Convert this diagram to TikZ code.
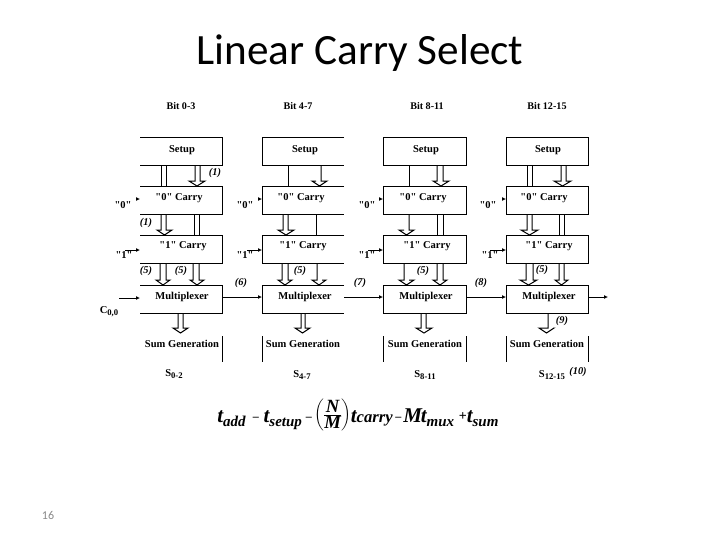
\documentclass[tikz,border=0pt]{standalone}
\usepackage{fontspec}
\usepackage{graphicx}
\setmainfont{Liberation Serif}[Ligatures=TeXOff]
\newfontfamily\titlefont{Carlito}
\usetikzlibrary{calc,arrows.meta}
\tikzset{
  x=0.75pt,y=-0.75pt,
  wire/.style={draw=black,line width=0.75pt},
  inwire/.style={wire,-{Latex[length=3pt,width=3pt]}},
  cell/.style={inner sep=0pt,outer sep=0pt},
  lbl/.style={inner sep=0pt,font=\fontsize{7.9pt}{9pt}\selectfont\bfseries},
  bitlbl/.style={inner sep=0pt,font=\fontsize{7.6pt}{9pt}\selectfont\bfseries},
  tag/.style={inner sep=0pt,font=\fontsize{7.8pt}{9pt}\selectfont\bfseries\itshape},
}
\newcommand{\openL}[1]{\draw[wire] (#1.north west) -- (#1.north east) -- (#1.south east) -- (#1.south west);}
\newcommand{\openR}[1]{\draw[wire] (#1.north east) -- (#1.north west) -- (#1.south west) -- (#1.south east);}
\newcommand{\closedbox}[1]{\draw[wire] (#1.north west) rectangle (#1.south east);}
% plain link: from, to, x
\newcommand{\plainlink}[3]{\draw[wire] (#3,0 |- #1.south) -- (#3,0 |- #2.north);}
% arrow with one visible shaft: from, to, shaft x, other x, near wing, far wing
\newcommand{\onearrow}[6]{\draw[wire] (#3,0 |- #1.south) -- ($(#3,0 |- #2.north)+(0,-5)$) -- ($(#5,0 |- #2.north)+(0,-5)$) -- ({(#5+#6)/2},0 |- #2.north) -- ($(#6,0 |- #2.north)+(0,-5)$) -- ($(#4,0 |- #2.north)+(0,-5)$);}
% arrow with two shafts: from, to, left x, right x, left wing, right wing
\newcommand{\twoarrow}[6]{\draw[wire] (#3,0 |- #1.south) -- ($(#3,0 |- #2.north)+(0,-5)$) -- ($(#5,0 |- #2.north)+(0,-5)$) -- ({(#5+#6)/2},0 |- #2.north) -- ($(#6,0 |- #2.north)+(0,-5)$) -- ($(#4,0 |- #2.north)+(0,-5)$) -- (#4,0 |- #1.south);}
\newcommand{\eqmain}{\fontsize{15.75pt}{18pt}\selectfont\bfseries\itshape}
\newcommand{\eqfrac}{\fontsize{14pt}{16pt}\selectfont\bfseries\itshape}
\newcommand{\eqsub}[1]{\raisebox{-3pt}{\fontsize{11.25pt}{12pt}\selectfont\bfseries\itshape #1}}
\newcommand{\eqsubb}[1]{\raisebox{0pt}{\fontsize{12.5pt}{13pt}\selectfont\bfseries\itshape #1}}
\newcommand{\eqop}[2]{\raisebox{1pt}{\fontsize{#1pt}{11pt}\selectfont\bfseries\upshape #2}}
\newcommand{\slbl}[1]{S\raisebox{-1.5pt}{\fontsize{6.5pt}{7pt}\selectfont #1}}
\begin{document}
\begin{tikzpicture}
\useasboundingbox (0,0) rectangle (720,540);
\fill[white] (0,0) rectangle (720,540);
\node[inner sep=0pt,anchor=base,font=\titlefont\fontsize{32.4pt}{36pt}\selectfont] (title) at (360,64) {Linear Carry Select};
\node[inner sep=0pt,text=black!46,font=\titlefont\fontsize{9pt}{10pt}\selectfont] (page) at (48,515) {16};

\foreach \c/\x/\w in {A/181/82,B/303/82,C/424.5/83,D/547/82}{
  \node[cell,minimum width=\w*0.75pt,minimum height=21pt] (setup\c) at (\x,151) {};
  \node[cell,minimum width=\w*0.75pt,minimum height=21pt] (zero\c) at (\x,200) {};
  \node[cell,minimum width=\w*0.75pt,minimum height=21pt] (one\c) at (\x,249) {};
  \node[cell,minimum width=\w*0.75pt,minimum height=21pt] (mux\c) at (\x,299) {};
  \node[cell,minimum width=\w*0.75pt,minimum height=21.75pt] (sum\c) at (\x,347.5) {};
}
\foreach \n in {setupA,zeroA,oneA,muxA}{\openL{\n}}
\foreach \n in {setupB,zeroB,oneB,muxB}{\openR{\n}}
\foreach \n in {setupC,zeroC,oneC,muxC,setupD,zeroD,oneD,muxD}{\closedbox{\n}}
\draw[wire] ($(sumA.north east)+(0,3)$) -- (sumA.south east);
\draw[wire] ($(sumB.north west)+(0,3)$) -- (sumB.south west);
\foreach \n in {sumC,sumD}{
  \draw[wire] ($(\n.north west)+(0,3)$) -- (\n.south west);
  \draw[wire] ($(\n.north east)+(0,3)$) -- (\n.south east);
}

% box texts
\foreach \t/\x/\y/\s in {a1/182/150/Setup,a2/305/150/Setup,a3/426/150/Setup,a4/548/150/Setup,
  b1/179/198/{"0" Carry},b2/301/198/{"0" Carry},b3/423/198/{"0" Carry},b4/544/198/{"0" Carry},
  c1/183/246/{"1" Carry},c2/303/246/{"1" Carry},c3/427/246/{"1" Carry},c4/549/246/{"1" Carry},
  d1/182/297/Multiplexer,d2/305/297/Multiplexer,d3/426/297/Multiplexer,d4/549/297/Multiplexer,
  e1/182/344/Sum Generation,e2/303/344/Sum Generation,e3/425/344/Sum Generation,e4/547/344/Sum Generation}{
  \node[lbl] (txt\t) at (\x,\y) {\s};
}
\foreach \t/\x/\s in {1/181/Bit 0-3,2/298/Bit 4-7,3/427/Bit 8-11,4/547/Bit 12-15}{
  \node[bitlbl] (bit\t) at (\x,106) {\s};
}

% column A links
\plainlink{setupA}{zeroA}{161}
\plainlink{setupA}{zeroA}{166}
\twoarrow{setupA}{zeroA}{195}{200}{189}{205}
\twoarrow{zeroA}{oneA}{161}{166}{157}{172}
\plainlink{zeroA}{oneA}{194}
\plainlink{zeroA}{oneA}{199}
\twoarrow{oneA}{muxA}{160}{166}{156}{170}
\twoarrow{oneA}{muxA}{193}{199}{190}{204}
\twoarrow{muxA}{sumA}{178}{183}{173}{188}
% column B links
\plainlink{setupB}{zeroB}{288}
\onearrow{setupB}{zeroB}{321}{316}{327}{312}
\twoarrow{zeroB}{oneB}{283}{288}{278}{294}
\plainlink{zeroB}{oneB}{316}
\twoarrow{oneB}{muxB}{282}{288}{278}{292}
\onearrow{oneB}{muxB}{317}{322}{312}{326}
\twoarrow{muxB}{sumB}{301}{305}{295}{310}
% column C links
\plainlink{setupC}{zeroC}{409}
\twoarrow{setupC}{zeroC}{437}{443}{433}{449}
\onearrow{zeroC}{oneC}{409}{404}{414}{399}
\plainlink{zeroC}{oneC}{437}
\plainlink{zeroC}{oneC}{443}
\onearrow{oneC}{muxC}{404}{409}{399}{414}
\twoarrow{oneC}{muxC}{437}{443}{433}{447}
\twoarrow{muxC}{sumC}{421}{426}{416}{432}
% column D links
\plainlink{setupD}{zeroD}{527}
\plainlink{setupD}{zeroD}{532}
\twoarrow{setupD}{zeroD}{561}{566}{554}{571}
\twoarrow{zeroD}{oneD}{527}{532}{521}{538}
\plainlink{zeroD}{oneD}{559}
\plainlink{zeroD}{oneD}{564}
\twoarrow{oneD}{muxD}{526}{533}{520}{537}
\twoarrow{oneD}{muxD}{559}{564}{555}{568}
\onearrow{muxD}{sumD}{548}{553}{539}{554}

% carry chain
\coordinate (cin) at (119,298);
\coordinate (cout) at (608,297);
\draw[inwire] (cin) -- (cin -| muxA.west);
\draw[inwire] (muxA.east |- 0,297) -- (muxB.west |- 0,297);
\draw[inwire] (muxB.east |- 0,297) -- (muxC.west |- 0,297);
\draw[inwire] (muxC.east |- 0,297) -- (muxD.west |- 0,297);
\draw[inwire] (muxD.east |- 0,297) -- (cout);

% carry inputs
\foreach \c/\a/\b/\u/\v in {A/136.5/125/123/124,B/259/247/245/245,C/380/368/367/367,D/502.5/490/488/490}{
  \coordinate (in0\c) at (\a,199);
  \coordinate (in1\c) at (\b,250);
  \draw[inwire] (in0\c) -- (in0\c -| zero\c.west);
  \draw[inwire] (in1\c) -- (in1\c -| one\c.west);
  \node[lbl] (lab0\c) at (\u,205) {"0"};
  \node[lbl] (lab1\c) at (\v,255) {"1"};
}

% numbered tags
\foreach \t/\x/\y/\s in {t1/215/173/(1),t2/146/223/(1),t3/146/271/(5),t4/181/271/(5),t5/241/283/(6),
  t6/300/271/(5),t7/360/283/(7),t8/423/271/(5),t9/481/283/(8),t10/542/270/(5),t11/562/321/(9),t12/578/372/(10)}{
  \node[tag] (\t) at (\x,\y) {\s};
}

% sum outputs
\node[lbl] (s0) at (174,374) {\slbl{0-2}};
\node[lbl] (s4) at (302,375) {\slbl{4-7}};
\node[lbl] (s8) at (425,375) {\slbl{8-11}};
\node[lbl] (s12) at (552,375) {\slbl{12-15}};
\node[lbl] (c0) at (109,312) {C\raisebox{-1.5pt}{\fontsize{6.5pt}{7pt}\selectfont 0,0}};

% delay equation
\node[inner sep=0pt,anchor=base west] (eqn) at (217,422) {\eqmain\nulldelimiterspace=0pt t\eqsub{add}\hspace{5.5pt}\eqop{9}{–}\hspace{3.5pt}t\eqsub{setup}\hspace{3pt}\eqop{9}{–}\hspace{2pt}\raisebox{1.5pt}{$\bigg($}\raisebox{1.5pt}{$\frac{\hbox{\eqfrac N}}{\hbox{\eqfrac M}}$}\raisebox{1.5pt}{$\bigg)$}t\eqsubb{carry}\hspace{2pt}\eqop{9}{–}\hspace{1.5pt}M\hspace{-1pt}t\eqsub{mux}\hspace{3.5pt}\eqop{10.5}{+}t\eqsub{sum}};
\end{tikzpicture}
\end{document}
